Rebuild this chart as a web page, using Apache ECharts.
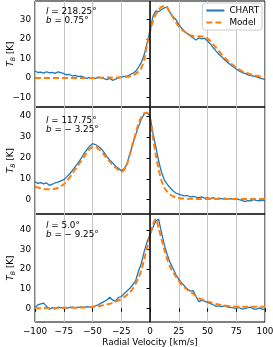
<!DOCTYPE html>
<html><head><meta charset="utf-8">
<script src="https://cdn.jsdelivr.net/npm/echarts@6/dist/echarts.min.js"></script>
<style>html,body{margin:0;padding:0;background:#fff}#c{width:273px;height:347px}</style>
</head><body><div id="c"></div>
<script>
// Radial velocity grid (km/s)
const vel = [-100,-97.5,-95,-92.5,-90,-87.5,-85,-82.5,-80,-77.5,-75,-72.5,-70,-67.5,-65,-62.5,-60,-57.5,-55,-52.5,-50,-47.5,-45,-42.5,-40,-37.5,-35,-32.5,-30,-27.5,-25,-22.5,-20,-17.5,-15,-12.5,-10,-7.5,-5,-2.5,0,2.5,5,7.5,10,12.5,15,17.5,20,22.5,25,27.5,30,32.5,35,37.5,40,42.5,45,47.5,50,52.5,55,57.5,60,62.5,65,67.5,70,72.5,75,77.5,80,82.5,85,87.5,90,92.5,95,97.5,100];

// Panel 1: l=218.25, b=0.75
const chart1 = [3.6,2.8,3.0,2.5,3.2,2.6,2.9,2.4,3.1,2.7,2.2,1.6,1.8,1.0,1.3,0.7,1.0,0.4,-0.2,0.3,0.1,-0.3,0.4,0.2,-0.4,-0.8,-0.2,-1.2,-0.6,0.0,0.4,0.8,0.9,1.6,2.4,3.4,5.5,8.0,12.0,18.0,24.0,31.5,34.5,34.0,35.0,36.0,36.5,33.5,31.5,30.0,27.5,25.5,24.0,22.8,21.6,20.5,19.5,20.6,20.0,20.4,19.0,17.5,15.5,13.8,12.2,10.8,9.2,8.0,6.8,5.6,4.6,3.6,2.8,2.4,1.6,1.2,1.0,0.6,0.0,-0.4,-0.8];
const model1 = [0.0,0.0,0.0,0.0,0.0,0.0,0.0,0.0,0.0,0.0,0.0,0.0,0.0,0.0,0.0,0.0,0.0,0.0,0.0,0.0,0.0,0.0,0.1,0.1,0.2,0.2,0.2,0.3,0.3,0.3,0.4,0.5,0.6,0.8,1.3,2.1,3.3,5.2,9.5,17.0,23.7,29.0,32.5,35.0,36.5,37.0,36.0,33.5,31.0,28.5,26.5,25.0,23.8,22.6,21.9,21.5,21.4,21.4,21.3,21.1,20.2,19.0,17.2,15.5,13.8,12.0,10.4,9.0,7.7,6.5,5.4,4.4,3.5,2.9,2.4,1.9,1.5,1.1,0.9,0.7,0.6];

// Panel 2: l=117.75, b=-3.25
const chart2 = [8.6,7.8,8.2,7.6,8.0,6.9,7.4,8.0,8.4,9.0,9.6,10.8,12.3,14.0,15.8,17.6,19.6,22.0,23.8,25.6,26.8,26.4,25.6,24.4,22.6,20.6,19.0,17.6,16.0,15.0,13.8,14.8,17.0,22.0,26.5,31.0,35.0,38.5,41.0,41.8,40.0,32.0,25.5,18.5,13.1,9.5,7.3,5.7,4.3,3.2,2.7,2.2,1.8,2.0,1.4,1.6,1.2,1.0,1.3,0.8,0.9,0.6,0.9,0.5,0.7,0.4,0.8,0.3,0.5,0.2,0.6,0.0,-0.3,-0.9,-0.4,-0.6,0.0,-0.3,-0.5,-0.2,-0.4];
const model2 = [6.2,5.8,5.5,5.2,5.0,5.0,5.0,5.2,5.7,6.4,7.4,8.8,10.6,12.6,14.5,16.5,18.4,20.5,22.4,24.2,25.2,25.4,24.3,23.1,21.5,19.9,18.2,16.7,15.4,14.2,13.3,14.2,17.0,21.5,27.0,31.5,36.5,39.5,41.4,41.6,39.0,30.0,21.5,14.5,9.2,5.8,3.8,2.5,1.6,1.1,0.8,0.6,0.5,0.4,0.4,0.4,0.3,0.3,0.3,0.3,0.3,0.3,0.3,0.3,0.3,0.3,0.3,0.3,0.3,0.3,0.3,0.3,0.3,0.3,0.3,0.3,0.3,0.3,0.3,0.3,0.3];

// Panel 3: l=5.0, b=-9.25
const chart3 = [0.5,1.7,2.2,2.6,1.0,-0.5,0.3,-0.4,0.6,0.2,0.5,-0.1,0.4,0.6,0.2,0.5,0.7,0.4,0.9,0.6,0.8,1.2,1.8,2.6,3.4,4.2,5.6,4.2,3.6,5.5,6.0,7.4,8.8,10.2,12.0,14.0,19.0,23.0,29.0,34.0,37.6,41.2,44.5,45.5,38.6,32.2,27.3,23.3,20.3,17.2,14.8,12.9,11.4,9.8,8.8,9.0,6.0,3.4,4.0,3.6,3.0,2.4,1.8,1.0,1.2,0.8,1.3,0.6,0.5,0.2,0.0,0.4,-0.4,-0.2,0.3,0.6,-0.3,-0.5,0.2,-0.4,-0.5];
const model3 = [0.0,0.0,0.0,0.1,0.1,0.1,0.1,0.2,0.2,0.2,0.2,0.3,0.3,0.3,0.3,0.4,0.4,0.4,0.5,0.5,0.6,0.8,1.0,1.3,1.7,2.0,2.3,2.8,3.3,4.0,4.7,5.7,6.8,8.0,10.0,12.5,15.5,19.5,25.0,31.0,36.7,42.5,45.6,41.0,35.2,29.8,25.0,21.2,18.5,16.2,14.0,12.0,10.6,9.5,8.3,7.4,6.2,5.2,4.6,4.1,3.5,3.0,2.6,2.2,1.9,1.6,1.4,1.2,1.0,0.9,0.8,0.8,0.8,0.8,0.8,0.8,0.8,0.8,0.8,0.8,0.8];

const yTicks1 = [-10,0,10,20,30];
const yTicks2 = [0,10,20,30,40];
const yTicks3 = [0,10,20,30,40];
const yRanges = [[-14.9,39.5],[-6.84,44.35],[-7.0,48.1]];
const labelsL = ['218.25','117.75','5.0'];
const labelsB = ['0.75','\u2212 3.25','\u2212 9.25'];

const FONT = 'DejaVu Sans';
const BLUE = '#1f77b4', ORANGE = '#ff7f0e';
const chartSets = [chart1, chart2, chart3];
const modelSets = [model1, model2, model3];
const yTickSets = [yTicks1, yTicks2, yTicks3];
const gridTops = [1, 107, 214];
const gridHeights = [106, 107, 108];

const minus = v => String(v).replace('-', '\u2212');

const grids = [], xAxes = [], yAxes = [], series = [];
for (let p = 0; p < 3; p++) {
  grids.push({left: 35, right: 8, top: gridTops[p], height: gridHeights[p], show: true,
    containLabel: false, outerBoundsMode: 'none',
    borderColor: '#000', borderWidth: 1, backgroundColor: 'transparent'});
  const last = p === 2;
  xAxes.push({type: 'value', gridIndex: p, min: -100, max: 100, interval: 25,
    axisLine: {show: false},
    axisTick: {show: last, length: 3.5, lineStyle: {color: '#000'}},
    axisLabel: {show: last, fontFamily: FONT, fontSize: 8.8, color: '#000', margin: 5, formatter: minus},
    splitLine: {show: true, lineStyle: {color: '#c4c4c4', width: 1}},
    name: last ? 'Radial Velocity [km/s]' : '', nameLocation: 'middle', nameGap: 16.5,
    nameMoveOverlap: false,
    nameTextStyle: {fontFamily: FONT, fontSize: 8.8, color: '#000'}
  });
  yAxes.push({type: 'value', gridIndex: p, min: yRanges[p][0], max: yRanges[p][1],
    axisLine: {show: false},
    axisTick: {show: true, length: 3.5, lineStyle: {color: '#000'}, customValues: yTickSets[p]},
    axisLabel: {fontFamily: FONT, fontSize: 8.8, color: '#000', margin: 4, customValues: yTickSets[p], formatter: minus},
    splitLine: {show: false},
    name: '{i|T}{s|B}{n| [K]}', nameLocation: 'middle', nameGap: 18.5, nameRotate: 90,
    nameMoveOverlap: false,
    nameTextStyle: {fontFamily: FONT, fontSize: 8.8, color: '#000',
      rich: {
        i: {fontFamily: FONT, fontSize: 8.8, fontStyle: 'italic', color: '#000'},
        s: {fontFamily: FONT, fontSize: 6.2, fontStyle: 'italic', color: '#000', padding: [5, 0, 0, 0]},
        n: {fontFamily: FONT, fontSize: 8.8, color: '#000'}
      }}
  });
  series.push({name: 'CHART', type: 'line', xAxisIndex: p, yAxisIndex: p,
    data: vel.map((v, i) => [v, chartSets[p][i]]), showSymbol: false, symbol: 'none',
    lineStyle: {color: BLUE, width: 1.3}, itemStyle: {color: BLUE}, z: 3});
  series.push({name: 'Model', type: 'line', xAxisIndex: p, yAxisIndex: p,
    data: vel.map((v, i) => [v, modelSets[p][i]]), showSymbol: false, symbol: 'none', smooth: 0.3,
    lineStyle: {color: ORANGE, width: 2, type: [6, 3]}, itemStyle: {color: ORANGE}, z: 4,
    markLine: {silent: true, symbol: ['none', 'none'], label: {show: false}, z: 6,
      lineStyle: {color: '#000', width: 1.5, type: 'solid'}, data: [{xAxis: 0}]}});
}

const ann = [[12.5, 21.5], [121, 130], [226, 235.5]];
const graphic = [];
for (let p = 0; p < 3; p++) {
  graphic.push({type: 'text', left: 46, top: ann[p][0] - 5, z: 10,
    style: {text: '{i|l} = ' + labelsL[p] + '\u00b0', fontFamily: FONT, fontSize: 8.8, fill: '#000',
      rich: {i: {fontFamily: FONT, fontSize: 8.8, fontStyle: 'italic', fill: '#000'}}}});
  graphic.push({type: 'text', left: 46, top: ann[p][1] - 5, z: 10,
    style: {text: '{i|b} = ' + labelsB[p] + '\u00b0', fontFamily: FONT, fontSize: 8.8, fill: '#000',
      rich: {i: {fontFamily: FONT, fontSize: 8.8, fontStyle: 'italic', fill: '#000'}}}});
}

const chart = echarts.init(document.getElementById('c'), null, {renderer: 'canvas'});
chart.setOption({
  animation: false,
  backgroundColor: '#fff',
  grid: grids, xAxis: xAxes, yAxis: yAxes, series: series, graphic: graphic,
  legend: {data: ['CHART', 'Model'], orient: 'vertical', right: 11, top: 3,
    backgroundColor: 'rgba(255,255,255,0.85)', borderColor: '#cccccc', borderWidth: 1, borderRadius: 3,
    padding: [3, 3, 3, 3], itemGap: 3, itemWidth: 18, itemHeight: 8,
    itemStyle: {opacity: 0},
    textStyle: {fontFamily: FONT, fontSize: 8.8, color: '#000'}}
});
</script></body></html>
